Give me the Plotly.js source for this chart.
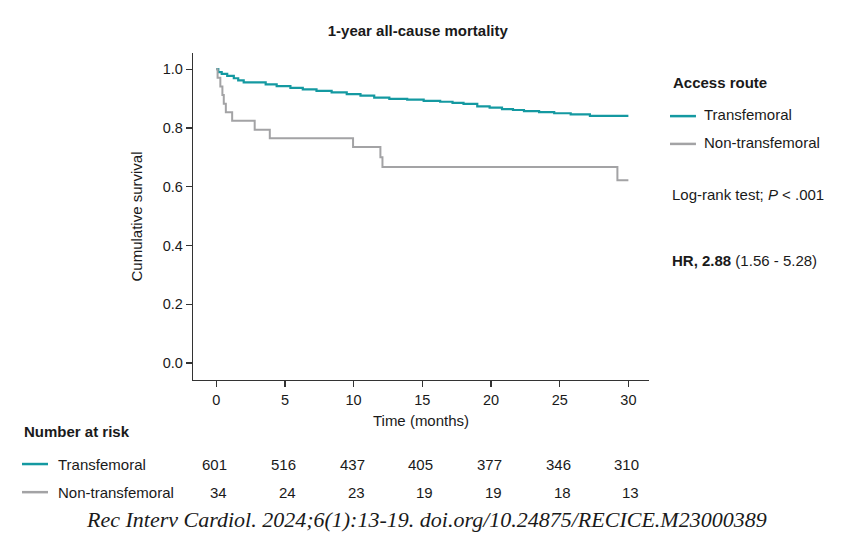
<!DOCTYPE html>
<html>
<head>
<meta charset="utf-8">
<script src="https://cdn.plot.ly/plotly-3.0.1.min.js"></script>
<style>
  html, body { margin: 0; padding: 0; background: #fff; }
  #chart { width: 844px; height: 550px; }
</style>
</head>
<body>
<div id="chart"></div>
<script>
/**
 * Kaplan-Meier, 1-year all-cause mortality by access route.
 * Step curves; number-at-risk table below axis.
 */

// Transfemoral KM estimate (months, survival)
const TF_TIME = [0, 0.15, 0.4, 0.8, 1.28, 1.6, 2.0, 3.6, 4.4, 5.4, 6.3, 7.3, 8.4, 9.5, 10.5, 11.5,
  12.6, 13.9, 15.1, 16.3, 17.2, 18.0, 19.0, 19.9, 20.8, 21.6, 22.4, 23.5, 24.6, 25.8, 27.2, 30];
const TF_SURV = [1.0, 0.99, 0.984, 0.977, 0.969, 0.962, 0.955, 0.948, 0.942, 0.936, 0.931, 0.926, 0.921, 0.915, 0.91, 0.903,
  0.899, 0.896, 0.892, 0.889, 0.885, 0.882, 0.873, 0.869, 0.864, 0.861, 0.857, 0.854, 0.85, 0.846, 0.841, 0.841];

// Non-transfemoral KM estimate
const NTF_TIME = [0, 0.1, 0.3, 0.45, 0.55, 0.7, 1.16, 2.8, 3.9, 9.96, 11.95, 12.1, 29.2, 30];
const NTF_SURV = [1.0, 0.971, 0.941, 0.912, 0.882, 0.853, 0.824, 0.794, 0.765, 0.735, 0.7, 0.667, 0.622, 0.622];

// Number at risk
const RISK_TIMES = [0, 5, 10, 15, 20, 25, 30];
const RISK_TF = [601, 516, 437, 405, 377, 346, 310];
const RISK_NTF = [34, 24, 23, 19, 19, 18, 13];

const GROUPS = ["Transfemoral", "Non-transfemoral"];
const TEAL = "#1499a1";
const GREY = "#a3a3a5";
const INK = "#1a1a1a";
const FONT = "'Liberation Sans', Arial, sans-serif";

const traces = [
  {
    x: TF_TIME, y: TF_SURV, type: "scatter", mode: "lines",
    line: { color: TEAL, width: 2.2, shape: "hv" }, name: GROUPS[0], showlegend: false,
  },
  {
    x: NTF_TIME, y: NTF_SURV, type: "scatter", mode: "lines",
    line: { color: GREY, width: 2, shape: "hv" }, name: GROUPS[1], showlegend: false,
  },
];

// helper: text annotation in paper coords
function note(text, x, y, opts = {}) {
  return Object.assign({
    text, x, y, xref: "paper", yref: "paper",
    xanchor: "left", yanchor: "middle", showarrow: false,
    font: { family: FONT, size: 15, color: INK },
  }, opts);
}
// helper: short legend swatch line
function swatch(color, x0, x1, y) {
  return { type: "line", xref: "paper", yref: "paper", x0, x1, y0: y, y1: y, line: { color, width: 2.5 } };
}

const annotations = [
  note("<b>Access route</b>", 1.048, 0.911),
  note(GROUPS[0], 1.116, 0.813),
  note(GROUPS[1], 1.116, 0.725),
  note("Log-rank test; <i>P</i> < .001", 1.046, 0.566),
  note("<b>HR, 2.88</b> (1.56 - 5.28)", 1.046, 0.364),
  note("<b>Number at risk</b>", -0.375, -0.159),
  note(GROUPS[0], -0.3, -0.257),
  note(GROUPS[1], -0.3, -0.343),
  note("Rec Interv Cardiol. 2024;6(1):13-19. doi.org/10.24875/RECICE.M23000389", 0.513, -0.428, {
    xanchor: "center",
    font: { family: "'Liberation Serif', 'DejaVu Serif', serif", size: 22, color: INK, style: "italic" },
  }),
];
RISK_TIMES.forEach((t, i) => {
  annotations.push(note(String(RISK_TF[i]), t, -0.257, { xref: "x", xanchor: "right", xshift: 13 }));
  annotations.push(note(String(RISK_NTF[i]), t, -0.343, { xref: "x", xanchor: "right", xshift: 13 }));
});

const shapes = [
  swatch(TEAL, 1.046, 1.103, 0.807),
  swatch(GREY, 1.046, 1.103, 0.722),
  swatch(TEAL, -0.375, -0.318, -0.257),
  swatch(GREY, -0.375, -0.318, -0.343),
];

const axisCommon = {
  showline: true, linecolor: "#333", linewidth: 1.3,
  ticks: "outside", ticklen: 6, tickcolor: "#333", tickwidth: 1.3,
  showgrid: false, zeroline: false,
  tickfont: { family: FONT, size: 14.5, color: INK },
};

const layout = {
  width: 844, height: 550,
  margin: { l: 193, r: 195, t: 53, b: 170 },
  paper_bgcolor: "#fff", plot_bgcolor: "#fff",
  title: {
    text: "<b>1-year all-cause mortality</b>",
    font: { family: FONT, size: 15, color: INK },
    x: 0.495, xanchor: "center", y: 0.945, yanchor: "middle",
  },
  xaxis: Object.assign({}, axisCommon, {
    range: [-1.69, 31.5], tickvals: RISK_TIMES,
    title: { text: "Time (months)", font: { family: FONT, size: 15, color: INK }, standoff: 8 },
  }),
  yaxis: Object.assign({}, axisCommon, {
    range: [-0.058, 1.055], tickvals: [0, 0.2, 0.4, 0.6, 0.8, 1.0], tickformat: ".1f",
    title: { text: "Cumulative survival", font: { family: FONT, size: 15, color: INK }, standoff: 16 },
  }),
  annotations, shapes,
  showlegend: false,
};

Plotly.newPlot("chart", traces, layout, { displayModeBar: false, staticPlot: true });
</script>
</body>
</html>
